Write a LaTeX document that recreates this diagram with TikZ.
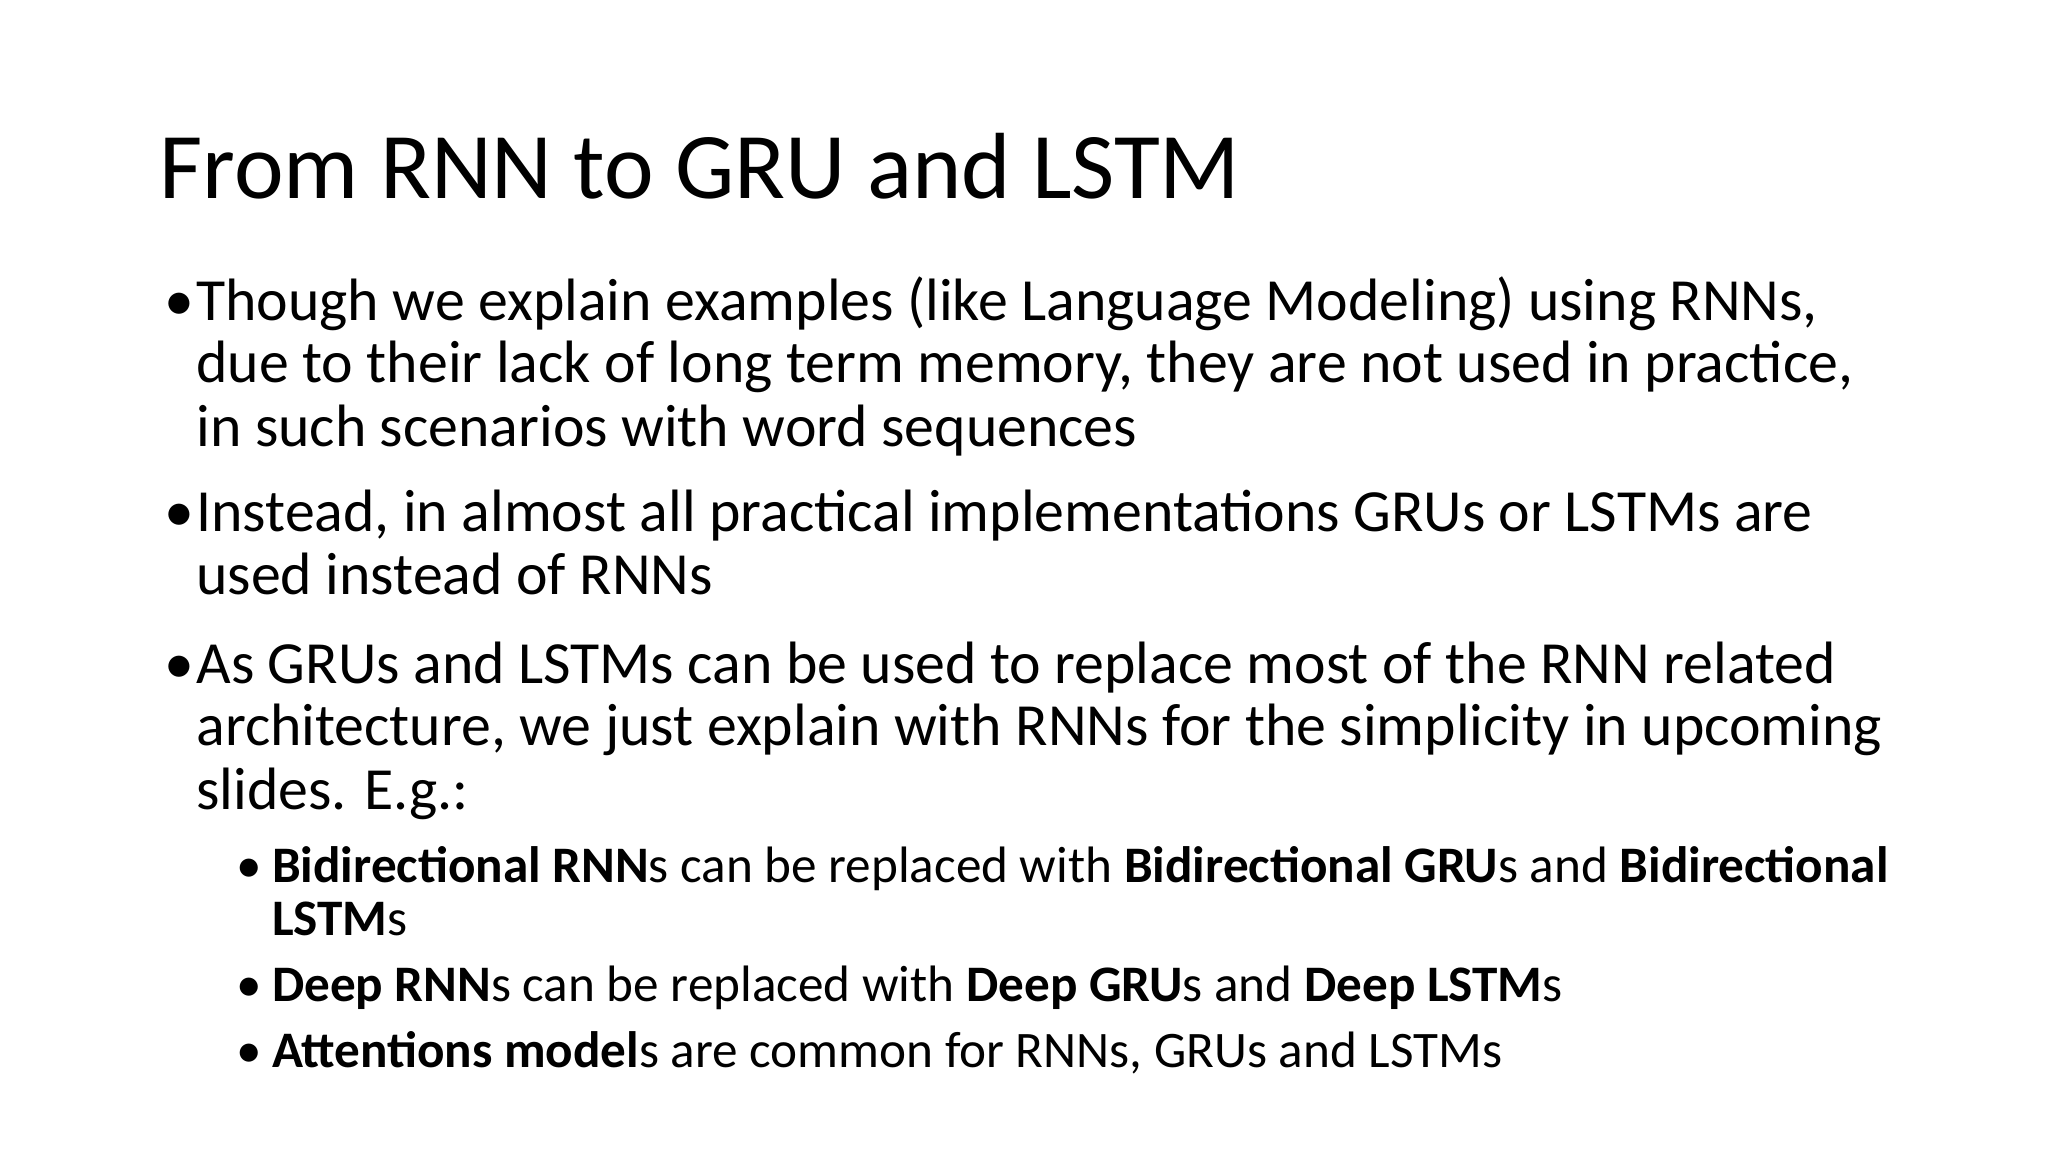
\documentclass[tikz,border=0pt]{standalone}
\usepackage{fontspec}
\setmainfont{Carlito}
\begin{document}
\begin{tikzpicture}[x=1pt,y=-1pt,
  tl/.style={anchor=base west,inner sep=0pt,font=\fontsize{47}{50}\selectfont},
  ln/.style={anchor=base west,inner sep=0pt,font=\fontsize{29.9}{32}\selectfont},
  sl/.style={anchor=base west,inner sep=0pt,font=\fontsize{25.6}{27}\selectfont}]
\useasboundingbox (0,0) rectangle (1024,576);
\fill[white] (0,0) rectangle (1024,576);
\node[tl] (title) at (79.7,99.3) {From RNN to GRU and LSTM};
\node[ln] (b1) at (82,160) {•};
\node[ln] (l1) at (98,160) {Though we explain examples (like Language Modeling) using RNNs,};
\node[ln] (l2) at (98,191.3) {due to their lack of long term memory, they are not used in practice,};
\node[ln] (l3) at (98,223.3) {in such scenarios with word sequences};
\node[ln] (b2) at (82,265.8) {•};
\node[ln] (l4) at (98,265.8) {Instead, in almost all practical implementations GRUs or LSTMs are};
\node[ln] (l5) at (98,297.1) {used instead of RNNs};
\node[ln] (b3) at (82,341.5) {•};
\node[ln] (l6) at (98,341.5) {As GRUs and LSTMs can be used to replace most of the RNN related};
\node[ln] (l7) at (98,372.9) {architecture, we just explain with RNNs for the simplicity in upcoming};
\node[ln] (l8) at (98,404.9) {slides. E.g.:};
\node[sl] (s1) at (118,441.4) {•};
\node[sl] (t1) at (135.8,441.4) {\textbf{Bidirectional RNN}s can be replaced with \textbf{Bidirectional GRU}s and \textbf{Bidirectional}};
\node[sl] (t1b) at (135.8,467.5) {\textbf{LSTM}s};
\node[sl] (s2) at (118,500.9) {•};
\node[sl] (t2) at (135.8,500.9) {\textbf{Deep RNN}s can be replaced with \textbf{Deep GRU}s and \textbf{Deep LSTM}s};
\node[sl] (s3) at (118,533.5) {•};
\node[sl] (t3) at (135.8,533.5) {\textbf{Attentions model}s are common for RNNs, GRUs and LSTMs};
\end{tikzpicture}
\end{document}
